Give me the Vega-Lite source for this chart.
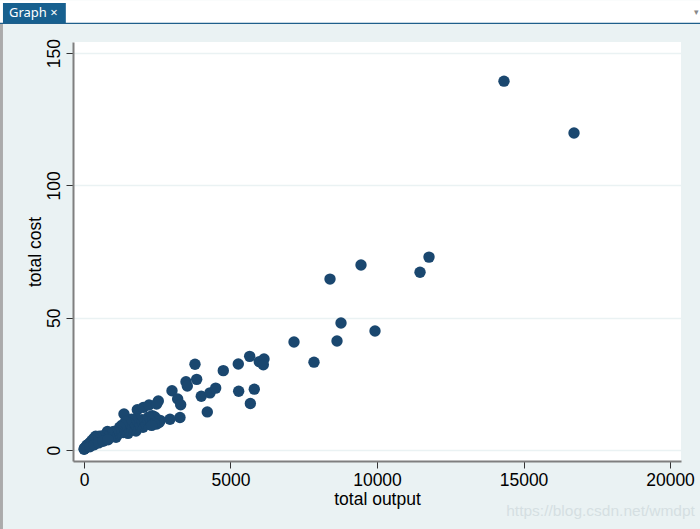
{
"$schema":"https://vega.github.io/schema/vega-lite/v6.json",
"width":608,"height":419,"autosize":{"type":"none"},
"padding":{"left":73,"top":42,"right":19,"bottom":68},
"background":"#EAF2F3",
"view":{"fill":"white","stroke":null},
"config":{"font":"Liberation Sans"},
"layer":[
{"data":{"values":[
{"o":16724,"c":119.8},{"o":14334,"c":139.4},{"o":11775,"c":72.9},{"o":11468,"c":67.2},{"o":9454,"c":69.9},{"o":8396,"c":64.6},{"o":8771,"c":48},{"o":8635,"c":41.2},{"o":9932,"c":45},{"o":7850,"c":33.2},{"o":7167,"c":40.8},
{"o":3788,"c":32.4},{"o":3846,"c":26.7},{"o":3481,"c":25.8},{"o":3526,"c":24.2},{"o":3003,"c":22.4},{"o":3197,"c":19.3},{"o":3300,"c":17.1},{"o":3276,"c":12.3},{"o":2935,"c":11.6},{"o":4208,"c":14.4},{"o":4003,"c":20.3},{"o":4300,"c":21.6},{"o":4495,"c":23.4},{"o":4754,"c":30},{"o":5266,"c":32.5},{"o":5279,"c":22.2},{"o":5655,"c":35.4},{"o":5678,"c":17.6},{"o":5812,"c":23},{"o":5983,"c":33.4},{"o":6143,"c":34.4},{"o":6120,"c":32.2},
{"o":1365,"c":13.6},{"o":1820,"c":15.2},{"o":2024,"c":16.1},{"o":2218,"c":17},{"o":2536,"c":18.5},{"o":2480,"c":17.4},{"o":2600,"c":11.2},{"o":2480,"c":9.8},{"o":2560,"c":10.4},{"o":2014,"c":8.6},{"o":1775,"c":7.2},{"o":1502,"c":6.3},{"o":1092,"c":4.8},
{"o":2330,"c":13},{"o":2420,"c":12.5},{"o":2280,"c":11.2},{"o":2200,"c":12.4},{"o":2120,"c":10.8},{"o":2050,"c":9.6},{"o":2390,"c":10},{"o":2310,"c":9.3},{"o":1980,"c":11.5},{"o":1900,"c":10.4},{"o":1850,"c":9.2},{"o":1800,"c":11.8},{"o":1760,"c":8.4},{"o":1700,"c":10.2},{"o":1650,"c":9},{"o":1620,"c":11.6},{"o":1580,"c":7.8},{"o":1540,"c":10},{"o":1500,"c":8.8},{"o":1450,"c":7.2},{"o":1420,"c":10.8},{"o":1380,"c":8.2},{"o":1340,"c":6.6},{"o":1300,"c":9.4},{"o":1260,"c":7.6},{"o":1220,"c":8.6},{"o":1180,"c":6.2},{"o":1140,"c":7.2},{"o":1100,"c":6.6},{"o":1060,"c":5.6},{"o":1010,"c":7},{"o":960,"c":5.4},{"o":920,"c":6.6},{"o":880,"c":4.8},{"o":840,"c":5.8},{"o":800,"c":7},{"o":760,"c":4.4},{"o":720,"c":5.2},{"o":680,"c":4.2},{"o":640,"c":5.4},{"o":600,"c":3.8},{"o":560,"c":4.6},{"o":520,"c":5.2},{"o":480,"c":3.4},{"o":440,"c":4.2},{"o":400,"c":5.2},{"o":370,"c":3},{"o":340,"c":4.4},{"o":300,"c":2.4},{"o":270,"c":3.6},{"o":240,"c":2},{"o":210,"c":2.8},{"o":180,"c":1.7},{"o":150,"c":2.2},{"o":120,"c":1.4},{"o":100,"c":1.8},{"o":80,"c":1.1},{"o":60,"c":1},{"o":40,"c":0.8},{"o":25,"c":0.7},{"o":13,"c":0.5},{"o":4,"c":0.3},{"o":200,"c":1.2},{"o":350,"c":2},{"o":500,"c":2.7},{"o":650,"c":3.3},{"o":820,"c":3.9}
]},
"mark":{"type":"point","filled":true,"size":130,"color":"#1A476F","opacity":1,"clip":false},
"encoding":{
"x":{"field":"o","type":"quantitative","scale":{"domain":[-375,20375],"nice":false,"zero":false},
 "axis":{"title":"total output","values":[0,5000,10000,15000,20000],"format":"d","grid":false,"domainColor":"#7F7F7F","domainWidth":2,"tickColor":"#333333","tickSize":7,"labelFontSize":17.5,"labelColor":"black","labelPadding":3,"labelFlush":false,"titleFontSize":17.5,"titleFontWeight":"normal","titleColor":"black","titlePadding":2}},
"y":{"field":"c","type":"quantitative","scale":{"domain":[-4.15,154.2],"nice":false,"zero":false},
 "axis":{"title":"total cost","values":[0,50,100,150],"grid":true,"gridColor":"#EAF2F3","gridWidth":1.5,"domainColor":"#7F7F7F","domainWidth":2,"tickColor":"#333333","tickSize":7,"labelFontSize":17.5,"labelColor":"black","labelAngle":-90,"labelAlign":"center","labelBaseline":"bottom","labelPadding":3,"titleFontSize":17.5,"titleFontWeight":"normal","titleColor":"black","titlePadding":1}}
}},
{"data":{"values":[{}]},"mark":{"type":"rect","color":"white","clip":false},
 "encoding":{"x":{"datum":-2867,"type":"quantitative"},"x2":{"datum":21024},"y":{"datum":170,"type":"quantitative"},"y2":{"datum":161.3}}},
{"data":{"values":[{}]},"mark":{"type":"rect","color":"#17608F","clip":false},
 "encoding":{"x":{"datum":-2765,"type":"quantitative"},"x2":{"datum":-620},"y":{"datum":168.9,"type":"quantitative"},"y2":{"datum":161.3}}},
{"data":{"values":[{}]},"mark":{"type":"rect","color":"#1F5F8B","clip":false},
 "encoding":{"x":{"datum":-2867,"type":"quantitative"},"x2":{"datum":21024},"y":{"datum":161.5,"type":"quantitative"},"y2":{"datum":161.0}}},
{"data":{"values":[{}]},"mark":{"type":"rect","color":"#ABABAB","clip":false},
 "encoding":{"x":{"datum":-2867,"type":"quantitative"},"x2":{"datum":-2765},"y":{"datum":161.0,"type":"quantitative"},"y2":{"datum":-30}}},
{"data":{"values":[{}]},"mark":{"type":"text","text":"Graph   ×","color":"white","font":"Noto Sans","fontSize":13,"align":"left","baseline":"middle","clip":false},
 "encoding":{"x":{"datum":-2560,"type":"quantitative"},"y":{"datum":165,"type":"quantitative"}}},
{"data":{"values":[{}]},"mark":{"type":"text","text":"▾","color":"#888888","fontSize":9,"align":"center","baseline":"middle","clip":false},
 "encoding":{"x":{"datum":20920,"type":"quantitative"},"y":{"datum":165.5,"type":"quantitative"}}},
{"data":{"values":[{}]},"mark":{"type":"text","text":"https://blog.csdn.net/wmdpt","color":"#D5DFE2","fontSize":15.5,"align":"right","baseline":"middle","clip":false},
 "encoding":{"x":{"datum":20850,"type":"quantitative"},"y":{"datum":-23,"type":"quantitative"}}}
]
}
